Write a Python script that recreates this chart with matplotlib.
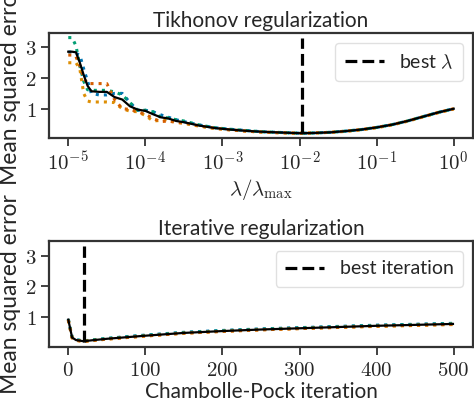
import numpy as np
import matplotlib
matplotlib.use("Agg")
import matplotlib.pyplot as plt
from matplotlib.ticker import FuncFormatter, NullLocator, FixedLocator

# ---------------- data ----------------
# Tikhonov: log10(lambda / lambda_max)
lam_exp = [-5.0, -4.95, -4.9, -4.85, -4.8, -4.75, -4.7, -4.6, -4.5, -4.4, -4.3, -4.2,
           -4.1, -4.0, -3.9, -3.8, -3.7, -3.6, -3.5, -3.3, -3.1, -2.9, -2.7, -2.5,
           -2.3, -2.1, -1.97, -1.8, -1.6, -1.4, -1.2, -1.0, -0.8, -0.6, -0.4, -0.2, 0.0]
tik_blue = [2.85, 2.85, 2.80, 2.75, 2.30, 1.90, 1.50, 1.45, 1.45, 1.50, 1.50, 1.20,
            0.95, 0.95, 0.90, 0.80, 0.72, 0.64, 0.58, 0.47, 0.38, 0.33, 0.29, 0.25,
            0.23, 0.21, 0.20, 0.21, 0.23, 0.27, 0.32, 0.39, 0.48, 0.60, 0.74, 0.88, 1.00]
tik_orange = [2.50, 2.50, 2.50, 2.30, 1.50, 1.25, 1.22, 1.22, 1.22, 1.20, 1.00, 0.92,
              0.90, 0.78, 0.60, 0.62, 0.65, 0.56, 0.52, 0.43, 0.36, 0.31, 0.27, 0.24,
              0.22, 0.20, 0.20, 0.21, 0.23, 0.26, 0.31, 0.38, 0.47, 0.59, 0.73, 0.87, 0.99]
tik_green = [3.32, 3.32, 3.05, 2.40, 1.90, 1.62, 1.60, 1.60, 1.60, 1.55, 1.45, 1.20,
             0.95, 0.95, 0.90, 0.72, 0.70, 0.64, 0.60, 0.47, 0.38, 0.33, 0.29, 0.25,
             0.23, 0.21, 0.20, 0.21, 0.23, 0.27, 0.32, 0.39, 0.48, 0.60, 0.74, 0.88, 1.00]
tik_red = [2.75, 2.75, 2.70, 2.40, 2.00, 1.82, 1.82, 1.82, 1.82, 1.30, 1.00, 0.98,
           0.90, 0.82, 0.68, 0.58, 0.60, 0.55, 0.54, 0.44, 0.36, 0.31, 0.27, 0.24,
           0.22, 0.21, 0.20, 0.21, 0.23, 0.27, 0.32, 0.39, 0.48, 0.60, 0.74, 0.88, 1.00]
tik_mean = [2.86, 2.86, 2.84, 2.50, 2.10, 1.75, 1.57, 1.55, 1.55, 1.38, 1.30, 1.08,
            0.97, 0.93, 0.82, 0.72, 0.68, 0.60, 0.56, 0.45, 0.37, 0.32, 0.28, 0.25,
            0.23, 0.21, 0.20, 0.21, 0.23, 0.27, 0.32, 0.39, 0.48, 0.60, 0.74, 0.88, 1.00]
best_lam = 10 ** -1.97

# Iterative: Chambolle-Pock iterations
iters = [0, 5, 10, 20, 30, 50, 75, 100, 150, 200, 250, 300, 350, 400, 450, 499]
it_blue = [0.95, 0.36, 0.28, 0.24, 0.27, 0.32, 0.38, 0.43, 0.52, 0.58, 0.63, 0.67, 0.71, 0.75, 0.78, 0.81]
it_orange = [0.91, 0.34, 0.26, 0.22, 0.25, 0.30, 0.35, 0.40, 0.49, 0.55, 0.60, 0.64, 0.68, 0.71, 0.74, 0.77]
it_green = [0.94, 0.36, 0.28, 0.24, 0.27, 0.32, 0.37, 0.42, 0.51, 0.57, 0.62, 0.66, 0.70, 0.74, 0.77, 0.80]
it_red = [0.92, 0.34, 0.26, 0.23, 0.25, 0.30, 0.35, 0.40, 0.49, 0.55, 0.60, 0.64, 0.68, 0.72, 0.75, 0.78]
it_mean = [0.93, 0.35, 0.27, 0.23, 0.26, 0.31, 0.36, 0.41, 0.50, 0.56, 0.61, 0.65, 0.69, 0.73, 0.76, 0.79]
best_iter = 20

colors = ["#0173b2", "#de8f05", "#029e73", "#d55e00"]
ymin_line, ymax_line = 0.20, 3.32

# ---------------- style ----------------
plt.rcParams["font.family"] = ["Lato", "DejaVu Sans"]
plt.rcParams["mathtext.fontset"] = "cm"
plt.rcParams["text.color"] = "0.15"
plt.rcParams["axes.labelcolor"] = "0.15"

FS = 15
fig = plt.figure(figsize=(4.74, 3.99), dpi=100)
ax1 = fig.add_axes([49/474, 1-138/399, 424/474, 105/399])
ax2 = fig.add_axes([49/474, 1-347/399, 424/474, 106/399], sharey=ax1)

lam = 10.0 ** np.array(lam_exp)
for s, c in zip([tik_blue, tik_orange, tik_green, tik_red], colors):
    ax1.plot(lam, s, ls=":", lw=2.2, color=c)
ax1.plot(lam, tik_mean, color="black", lw=1.6)
ax1.vlines(best_lam, ymin_line, ymax_line, colors="black", linestyles="--", lw=2.3,
           label=r"best $\lambda$")
ax1.set_xscale("log")
ax1.xaxis.set_major_locator(FixedLocator([1e-5, 1e-4, 1e-3, 1e-2, 1e-1, 1e0]))
ax1.xaxis.set_minor_locator(NullLocator())
ax1.xaxis.set_major_formatter(FuncFormatter(lambda v, p: r"$10^{%d}$" % round(np.log10(v))))
ax1.set_title("Tikhonov regularization", fontsize=FS, pad=4)
ax1.set_xlabel(r"$\lambda/\lambda_{\max}$", fontsize=FS, labelpad=2)
ax1.set_ylabel("Mean squared error", fontsize=16.5, labelpad=3)

for s, c in zip([it_blue, it_orange, it_green, it_red], colors):
    ax2.plot(iters, s, ls=":", lw=2.2, color=c)
ax2.plot(iters, it_mean, color="black", lw=1.6)
ax2.vlines(best_iter, ymin_line, ymax_line, colors="black", linestyles="--", lw=2.3,
           label="best iteration")
ax2.xaxis.set_major_locator(FixedLocator([0, 100, 200, 300, 400, 500]))
ax2.xaxis.set_major_formatter(FuncFormatter(lambda v, p: r"$%d$" % v))
ax2.set_xlim(-25, 525)
ax2.set_title("Iterative regularization", fontsize=FS, pad=4)
ax2.set_xlabel("Chambolle-Pock iteration", fontsize=FS, labelpad=2)
ax2.set_ylabel("Mean squared error", fontsize=16.5, labelpad=3)

ax1.yaxis.set_major_locator(FixedLocator([1, 2, 3]))
ax1.yaxis.set_major_formatter(FuncFormatter(lambda v, p: r"$%d$" % v))
ax1.set_ylim(0.045, 3.47)

for ax in (ax1, ax2):
    for sp in ax.spines.values():
        sp.set_color("0.2")
        sp.set_linewidth(1.6)
    ax.tick_params(direction="out", length=6, width=1.3, color="0.2",
                   labelsize=FS, labelcolor="0.15", pad=3)
    leg = ax.legend(loc="upper right", fontsize=14, frameon=True, fancybox=True,
                    handlelength=2.0, borderpad=0.5)
    leg.get_frame().set_edgecolor("0.85")
    leg.get_frame().set_linewidth(1.0)

fig.savefig("out.png", dpi=100)
